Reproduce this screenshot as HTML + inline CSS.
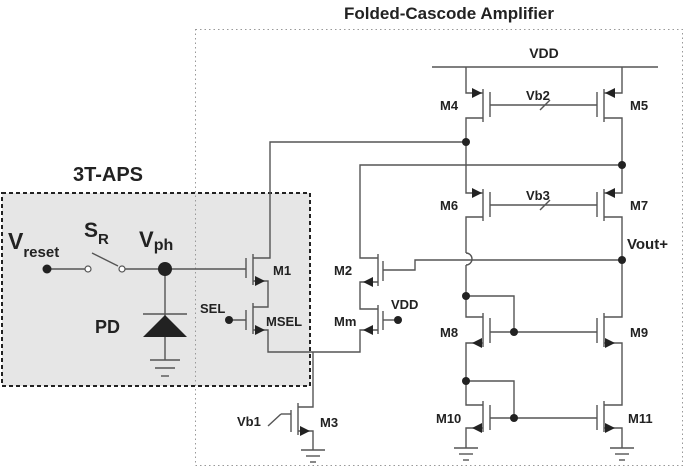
<!DOCTYPE html>
<html><head><meta charset="utf-8"><style>
html,body{margin:0;padding:0;background:#fff}
svg{display:block}
text{font-family:"Liberation Sans",Arial,sans-serif;font-weight:bold;fill:#222}
</style></head><body>
<svg width="685" height="473" viewBox="0 0 685 473" xmlns="http://www.w3.org/2000/svg">
<!-- boxes -->
<rect x="2" y="193" width="308" height="193" fill="#e6e6e6" stroke="#222" stroke-width="2" stroke-dasharray="4,3"/>
<rect x="195.5" y="29.5" width="487" height="436" fill="none" stroke="#999" stroke-width="1" stroke-dasharray="1.5,3"/>
<text x="449" y="19" font-size="17" text-anchor="middle">Folded-Cascode Amplifier</text>
<text x="108" y="181" font-size="20" text-anchor="middle">3T-APS</text>
<text x="544" y="58" font-size="14" text-anchor="middle">VDD</text>

<g stroke="#555" stroke-width="1.4" fill="none">
<!-- VDD rail -->
<line x1="432" y1="67" x2="658" y2="67"/>
<!-- left branch -->
<polyline points="466,67 466,93 483,93"/>
<polyline points="483,118 466,118 466,193 483,193"/>
<polyline points="483,217 466,217 466,253"/>
<path d="M466,253 a5,5 0 0 1 0,12"/>
<polyline points="466,265 466,317 483,317"/>
<polyline points="483,343 466,343 466,405 483,405"/>
<polyline points="483,428 466,428 466,448"/>
<!-- right branch -->
<polyline points="622,67 622,93 604,93"/>
<polyline points="604,118 622,118 622,193 604,193"/>
<polyline points="604,217 622,217 622,317 604,317"/>
<polyline points="604,343 622,343 622,405 604,405"/>
<polyline points="604,428 622,428 622,448"/>
<!-- channels -->
<line x1="483" y1="89" x2="483" y2="122"/><line x1="490" y1="92" x2="490" y2="117"/>
<line x1="604" y1="89" x2="604" y2="122"/><line x1="597" y1="92" x2="597" y2="117"/>
<line x1="483" y1="189" x2="483" y2="221"/><line x1="490" y1="192" x2="490" y2="217"/>
<line x1="604" y1="189" x2="604" y2="221"/><line x1="597" y1="192" x2="597" y2="217"/>
<line x1="483" y1="313" x2="483" y2="347"/><line x1="490" y1="318" x2="490" y2="343"/>
<line x1="604" y1="313" x2="604" y2="347"/><line x1="597" y1="318" x2="597" y2="343"/>
<line x1="483" y1="401" x2="483" y2="432"/><line x1="490" y1="405" x2="490" y2="430"/>
<line x1="604" y1="401" x2="604" y2="432"/><line x1="597" y1="405" x2="597" y2="430"/>
<!-- gate lines -->
<line x1="490" y1="105" x2="597" y2="105"/><line x1="540" y1="110" x2="550" y2="100"/>
<line x1="490" y1="205" x2="597" y2="205"/><line x1="540" y1="210" x2="550" y2="200"/>
<line x1="490" y1="332" x2="597" y2="332"/>
<polyline points="466,296 514,296 514,332"/>
<line x1="490" y1="418" x2="597" y2="418"/>
<polyline points="466,381 514,381 514,418"/>
<!-- grounds right -->
<line x1="454" y1="448" x2="478" y2="448"/><line x1="459" y1="454" x2="473" y2="454"/><line x1="463" y1="460" x2="469" y2="460"/>
<line x1="610" y1="448" x2="634" y2="448"/><line x1="615" y1="454" x2="629" y2="454"/><line x1="619" y1="460" x2="625" y2="460"/>
<!-- cross wires -->
<polyline points="466,142 270,142 270,258 253,258"/>
<polyline points="622,165 360,165 360,258 378,258"/>
<polyline points="383,270 415,270 415,260 622,260"/>
<!-- M2 / Mm -->
<line x1="378" y1="254" x2="378" y2="286"/><line x1="383" y1="261" x2="383" y2="281"/>
<polyline points="378,282 360,282 360,309 378,309"/>
<line x1="378" y1="305" x2="378" y2="334"/><line x1="383" y1="311" x2="383" y2="330"/>
<line x1="383" y1="320" x2="398" y2="320"/>
<polyline points="378,330 360,330 360,352 268,352 268,330 253,330"/>
<!-- M1 / MSEL -->
<line x1="253" y1="254" x2="253" y2="285"/><line x1="246" y1="258" x2="246" y2="278"/>
<polyline points="253,281 268,281 268,307 253,307"/>
<line x1="253" y1="303" x2="253" y2="334"/><line x1="246" y1="310" x2="246" y2="330"/>
<line x1="229" y1="320" x2="246" y2="320"/>
<!-- M3 -->
<polyline points="313,352 313,407 298,407"/>
<line x1="298" y1="403" x2="298" y2="435"/><line x1="291" y1="410" x2="291" y2="432"/>
<polyline points="298,431 313,431 313,450"/>
<line x1="268" y1="426" x2="281" y2="414"/><line x1="281" y1="414" x2="291" y2="414"/>
<line x1="301" y1="450" x2="325" y2="450"/><line x1="306" y1="456" x2="320" y2="456"/><line x1="310" y1="462" x2="316" y2="462"/>
<!-- APS -->
<line x1="47" y1="269" x2="85" y2="269"/>
<line x1="92" y1="253" x2="118" y2="266"/>
<line x1="125" y1="269" x2="246" y2="269"/>
<line x1="165" y1="269" x2="165" y2="360"/>
<line x1="143" y1="314" x2="187" y2="314"/>
<line x1="150" y1="360" x2="180" y2="360"/><line x1="155" y1="368" x2="175" y2="368"/><line x1="161" y1="376" x2="169" y2="376"/>
</g>
<!-- switch contacts -->
<circle cx="88" cy="269" r="3" fill="#fff" stroke="#555" stroke-width="1.2"/>
<circle cx="122" cy="269" r="3" fill="#fff" stroke="#555" stroke-width="1.2"/>
<g fill="#222">
<polygon points="143,337 187,337 165,315"/>
<circle cx="47" cy="269" r="4.5"/>
<circle cx="165" cy="269" r="7"/>
<circle cx="229" cy="320" r="4"/>
<circle cx="398" cy="320" r="4"/>
<circle cx="466" cy="142" r="4"/><circle cx="622" cy="165" r="4"/>
<circle cx="622" cy="260" r="4"/><circle cx="466" cy="296" r="4"/>
<circle cx="514" cy="332" r="4"/><circle cx="466" cy="381" r="4"/><circle cx="514" cy="418" r="4"/>
<!-- arrows PMOS (into channel) -->
<polygon points="482,93 472,88 472,98"/><polygon points="605,93 615,88 615,98"/>
<polygon points="482,193 472,188 472,198"/><polygon points="605,193 615,188 615,198"/>
<!-- NMOS (out) -->
<polygon points="472,343 482,338 482,348"/><polygon points="615,343 605,338 605,348"/>
<polygon points="472,428 482,423 482,433"/><polygon points="615,428 605,423 605,433"/>
<polygon points="265,281 255,276 255,286"/><polygon points="265,330 255,325 255,335"/>
<polygon points="363,282 373,277 373,287"/><polygon points="363,330 373,325 373,335"/>
<polygon points="310,431 300,426 300,436"/>
</g>
<!-- labels -->
<g font-size="13">
<text x="440" y="110">M4</text><text x="630" y="110">M5</text>
<text x="440" y="210">M6</text><text x="630" y="210">M7</text>
<text x="440" y="337">M8</text><text x="630" y="337">M9</text>
<text x="436" y="423">M10</text><text x="628" y="423">M11</text>
<text x="526" y="100">Vb2</text><text x="526" y="200">Vb3</text>
<text x="273" y="275">M1</text><text x="266" y="326">MSEL</text>
<text x="334" y="275">M2</text><text x="334" y="326">Mm</text>
<text x="391" y="309">VDD</text><text x="200" y="313">SEL</text>
<text x="237" y="426">Vb1</text><text x="320" y="427">M3</text>
</g>
<text x="627" y="249" font-size="15">Vout+</text>
<text x="95" y="333" font-size="18">PD</text>
<text x="8" y="249" font-size="23">V<tspan font-size="15" dy="8">reset</tspan></text>
<text x="84" y="237" font-size="21">S<tspan font-size="15" dy="7">R</tspan></text>
<text x="139" y="247" font-size="22">V<tspan font-size="16" dy="3">ph</tspan></text>
</svg>
</body></html>
